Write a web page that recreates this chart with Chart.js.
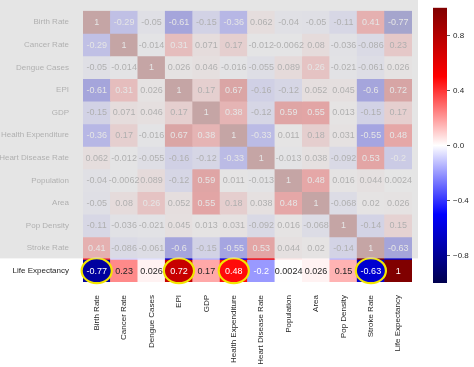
<!DOCTYPE html>
<html lang="en">
<head>
<meta charset="UTF-8">
<title>Life Expectancy correlations</title>
<script src="https://cdn.jsdelivr.net/npm/chart.js"></script>
<style>
  body { margin: 0; background: #fff; }
  .wrap { position: relative; width: 474px; height: 367px; }
  .wrap canvas { position: absolute; left: 0; top: 0; }
</style>
</head>
<body>
<div class="wrap">
  <canvas id="heatmap" width="474" height="367"></canvas>
  <canvas id="colorbar" width="474" height="367"></canvas>
</div>
<script>
// variables, same order on both axes
const variables = ['Birth Rate', 'Cancer Rate', 'Dengue Cases', 'EPI', 'GDP', 'Health Expenditure',
  'Heart Disease Rate', 'Population', 'Area', 'Pop Density', 'Stroke Rate', 'Life Expectancy'];

// correlation rows
const birthRate     = [1, -0.29, -0.05, -0.61, -0.15, -0.36, 0.062, -0.04, -0.05, -0.11, 0.41, -0.77];
const cancerRate    = [-0.29, 1, -0.014, 0.31, 0.071, 0.17, -0.012, -0.0062, 0.08, -0.036, -0.086, 0.23];
const dengueCases   = [-0.05, -0.014, 1, 0.026, 0.046, -0.016, -0.055, 0.089, 0.26, -0.021, -0.061, 0.026];
const epi           = [-0.61, 0.31, 0.026, 1, 0.17, 0.67, -0.16, -0.12, 0.052, 0.045, -0.6, 0.72];
const gdp           = [-0.15, 0.071, 0.046, 0.17, 1, 0.38, -0.12, 0.59, 0.55, 0.013, -0.15, 0.17];
const healthExp     = [-0.36, 0.17, -0.016, 0.67, 0.38, 1, -0.33, 0.011, 0.18, 0.031, -0.55, 0.48];
const heartDisease  = [0.062, -0.012, -0.055, -0.16, -0.12, -0.33, 1, -0.013, 0.038, -0.092, 0.53, -0.2];
const population    = [-0.04, -0.0062, 0.089, -0.12, 0.59, 0.011, -0.013, 1, 0.48, 0.016, 0.044, 0.0024];
const area          = [-0.05, 0.08, 0.26, 0.052, 0.55, 0.18, 0.038, 0.48, 1, -0.068, 0.02, 0.026];
const popDensity    = [-0.11, -0.036, -0.021, 0.045, 0.013, 0.031, -0.092, 0.016, -0.068, 1, -0.14, 0.15];
const strokeRate    = [0.41, -0.086, -0.061, -0.6, -0.15, -0.55, 0.53, 0.044, 0.02, -0.14, 1, -0.63];
const lifeExp       = [-0.77, 0.23, 0.026, 0.72, 0.17, 0.48, -0.2, 0.0024, 0.026, 0.15, -0.63, 1];

const corr = [birthRate, cancerRate, dengueCases, epi, gdp, healthExp,
  heartDisease, population, area, popDensity, strokeRate, lifeExp];

const highlightRow = 'Life Expectancy';
const circled = ['Birth Rate', 'EPI', 'Health Expenditure', 'Stroke Rate'];
const colorbarTicks = [-0.8, -0.4, 0, 0.4, 0.8];

// matplotlib "seismic"
const seismicStops = [[0, 0, 0.3], [0, 0, 1], [1, 1, 1], [1, 0, 0], [0.5, 0, 0]];
function seismicRgb(v) {
  let t = Math.min(1, Math.max(0, (v + 1) / 2)) * 4;
  const k = Math.min(3, Math.floor(t));
  const f = t - k;
  const a = seismicStops[k], b = seismicStops[k + 1];
  return a.map((c, i) => c + (b[i] - c) * f);
}
function seismic(v) {
  const [r, g, b] = seismicRgb(v).map(c => Math.round(c * 255));
  return `rgb(${r},${g},${b})`;
}
// seaborn picks white or dark text by luminance
function textColour(v) {
  const lin = seismicRgb(v).map(c => c <= 0.03928 ? c / 12.92 : Math.pow((c + 0.055) / 1.055, 2.4));
  const l = 0.2126 * lin[0] + 0.7152 * lin[1] + 0.0722 * lin[2];
  return l > 0.408 ? '#262626' : '#ffffff';
}
const fmt = v => String(Number(v.toPrecision(2)));

Chart.defaults.font.family = '"Liberation Sans", Arial, sans-serif';
Chart.defaults.color = '#262626';

const cellLayer = {
  id: 'cellLayer',
  afterDatasetsDraw(chart) {
    const { ctx, scales: { x, y } } = chart;
    const rx = 0.55 * Math.abs(x.getPixelForValue(1) - x.getPixelForValue(0));
    const ry = 0.55 * Math.abs(y.getPixelForValue(1) - y.getPixelForValue(0));
    const r = variables.indexOf(highlightRow);
    ctx.save();
    circled.forEach(name => {
      const c = variables.indexOf(name);
      ctx.beginPath();
      ctx.ellipse(x.getPixelForValue(c), y.getPixelForValue(r), rx, ry, 0, 0, Math.PI * 2);
      ctx.fillStyle = seismic(corr[r][c]);
      ctx.fill();
      ctx.lineWidth = 2.2;
      ctx.strokeStyle = '#f2e600';
      ctx.stroke();
    });
    ctx.font = '9px "Liberation Sans", Arial, sans-serif';
    ctx.textAlign = 'center';
    ctx.textBaseline = 'middle';
    corr.forEach((row, j) => row.forEach((v, i) => {
      ctx.fillStyle = textColour(v);
      ctx.fillText(fmt(v), x.getPixelForValue(i), y.getPixelForValue(j) + 0.5);
    }));
    ctx.restore();
  },
  afterDraw(chart) {
    // grey veil over every row except the highlighted one
    const { ctx, chartArea, scales: { y } } = chart;
    const r = variables.indexOf(highlightRow);
    ctx.save();
    ctx.fillStyle = 'rgba(220,220,220,0.75)';
    ctx.fillRect(0, 0, chartArea.right + 6, y.getPixelForValue(r - 0.5) - 1);
    ctx.restore();
  }
};

new Chart(document.getElementById('heatmap'), {
  type: 'bar',
  data: {
    labels: variables,
    datasets: corr.map((row, j) => ({
      label: variables[j],
      data: row.map(() => [j - 0.5, j + 0.5]),
      backgroundColor: row.map(seismic),
      borderWidth: 0,
      grouped: false,
      barPercentage: 1,
      categoryPercentage: 1
    }))
  },
  options: {
    responsive: false,
    animation: false,
    events: [],
    layout: { padding: { top: 3, right: 62, left: 0, bottom: 0 } },
    plugins: { legend: { display: false }, tooltip: { enabled: false } },
    scales: {
      x: {
        grid: { display: false },
        border: { display: false },
        ticks: { autoSkip: false, minRotation: 90, maxRotation: 90, padding: 5, font: { size: 8 } },
        afterFit: s => { s.height = 85; }
      },
      y: {
        type: 'linear',
        min: -0.5, max: 11.5,
        reverse: true,
        grid: { display: false },
        border: { display: false },
        afterBuildTicks: s => { s.ticks = variables.map((_, i) => ({ value: i })); },
        ticks: { padding: 6, font: { size: 8 }, callback: v => variables[v] },
        afterFit: s => { s.width = 83; }
      }
    }
  },
  plugins: [cellLayer]
});

const gradientBar = {
  id: 'gradientBar',
  beforeDatasetsDraw(chart) {
    const { ctx, chartArea, scales: { y } } = chart;
    const g = ctx.createLinearGradient(0, y.getPixelForValue(-1), 0, y.getPixelForValue(1));
    seismicStops.forEach((_, k) => g.addColorStop(k / 4, seismic(-1 + k / 2)));
    ctx.save();
    ctx.fillStyle = g;
    ctx.fillRect(chartArea.left, chartArea.top, chartArea.right - chartArea.left, chartArea.bottom - chartArea.top);
    ctx.restore();
  }
};

new Chart(document.getElementById('colorbar'), {
  type: 'scatter',
  data: { datasets: [{ data: [] }] },
  options: {
    responsive: false,
    animation: false,
    events: [],
    layout: { padding: { left: 433, top: 2, bottom: 84, right: 0 } },
    plugins: { legend: { display: false }, tooltip: { enabled: false } },
    scales: {
      x: { display: false, min: 0, max: 1 },
      y: {
        position: 'right',
        min: -1, max: 1,
        border: { display: false },
        grid: { drawOnChartArea: false, drawTicks: true, tickLength: 3, color: '#333', lineWidth: 0.8 },
        afterBuildTicks: s => { s.ticks = colorbarTicks.map(v => ({ value: v })); },
        ticks: { padding: 3, font: { size: 8 }, callback: v => v.toFixed(1).replace('-', '\u2212') },
        afterFit: s => { s.width = 27; }
      }
    }
  },
  plugins: [gradientBar]
});
</script>
</body>
</html>
